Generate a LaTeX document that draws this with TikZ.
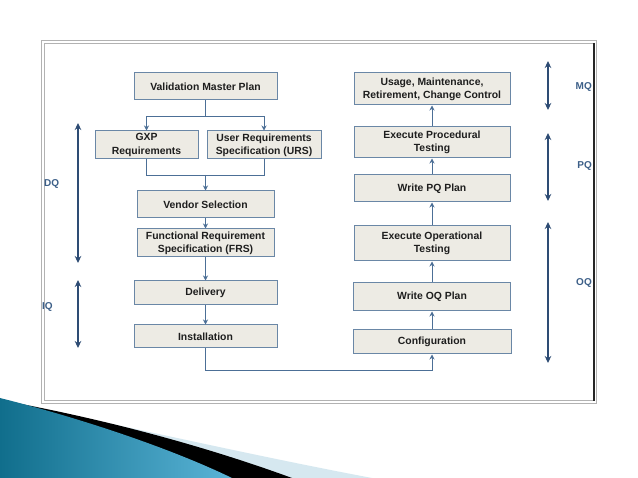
\documentclass[tikz,border=0pt]{standalone}
\usepackage{fontspec}
\setmainfont{Liberation Sans}
\usetikzlibrary{arrows.meta}
\definecolor{boxfill}{HTML}{EDEBE4}
\definecolor{boxline}{HTML}{6A87A6}
\definecolor{conn}{HTML}{4C6F96}
\definecolor{navy}{HTML}{2E4C74}
\definecolor{txt}{HTML}{1E1E1E}
\definecolor{lbl}{HTML}{3C5F88}
\tikzset{
  box/.style={draw=boxline, line width=1pt, fill=boxfill, inner sep=0pt, align=center,
    text=txt, font=\fontsize{10.4}{13.2}\selectfont\bfseries},
  conline/.style={draw=conn, line width=0.9pt},
  conarrow/.style={conline, -{Stealth[length=5pt,width=5pt]}},
  phase/.style={draw=navy, line width=2.6pt, {Stealth[length=7pt,width=6.5pt]}-{Stealth[length=7pt,width=6.5pt]}},
  phaselbl/.style={text=lbl, font=\fontsize{10}{12}\selectfont\bfseries, inner sep=0pt}
}
\begin{document}
\begin{tikzpicture}[x=1pt,y=-1pt]
\useasboundingbox (0,0) rectangle (638,478);
\fill[white] (0,0) rectangle (638,478);
% bottom swoosh
\fill[color={rgb,255:red,214;green,232;blue,240}] (0,400) .. controls (120,425) and (250,455) .. (372,478) -- (0,478) -- cycle;
\fill[black] (0,400) .. controls (110,420) and (210,448) .. (292,478) -- (0,478) -- cycle;
\shade[left color={rgb,255:red,16;green,110;blue,140}, right color={rgb,255:red,90;green,180;blue,215}]
  (0,398) .. controls (80,418) and (170,448) .. (232,478) -- (0,478) -- cycle;
% frame
\draw[gray!60, line width=0.9pt, double=white, double distance=1.6pt] (43,42) rectangle (595,402);
\draw[black!85, line width=1.8pt] (594,43) -- (594,401);
% left column
\node[box, minimum width=143pt, minimum height=27pt] (vmp) at (205.5,86.5) {Validation Master Plan};
\node[box, minimum width=103pt, minimum height=28pt] (gxp) at (146.5,145) {GXP\\Requirements};
\node[box, minimum width=114pt, minimum height=28pt] (urs) at (264,145) {User Requirements\\Specification (URS)};
\node[box, minimum width=137pt, minimum height=27pt] (vend) at (205.5,204.5) {Vendor Selection};
\node[box, minimum width=137pt, minimum height=28pt] (frs) at (205.5,243) {Functional Requirement\\Specification (FRS)};
\node[box, minimum width=143pt, minimum height=24pt] (deliv) at (205.5,293) {Delivery};
\node[box, minimum width=143pt, minimum height=23pt] (inst) at (205.5,336.5) {Installation};
% right column
\node[box, minimum width=156pt, minimum height=32pt] (usage) at (432,89) {Usage, Maintenance,\\Retirement, Change Control};
\node[box, minimum width=156pt, minimum height=31pt] (epq) at (432,142.5) {Execute Procedural\\Testing};
\node[box, minimum width=156pt, minimum height=27pt] (wpq) at (432,188.5) {Write PQ Plan};
\node[box, minimum width=156pt, minimum height=35pt] (eoq) at (432,243.5) {Execute Operational\\Testing};
\node[box, minimum width=157pt, minimum height=28pt] (woq) at (432,297) {Write OQ Plan};
\node[box, minimum width=158pt, minimum height=24pt] (conf) at (432,342) {Configuration};
% junction coordinates
\coordinate (j1) at (205.5,116);
\coordinate (j2) at (205.5,175);
\coordinate (j3) at (205.5,370);
% connectors left
\draw[conline] (vmp.south) -- (j1);
\draw[conarrow] (j1) -| (gxp.north);
\draw[conarrow] (j1) -| (urs.north);
\draw[conline] (gxp.south) |- (j2);
\draw[conline] (urs.south) |- (j2);
\draw[conarrow] (j2) -- (vend.north);
\draw[conarrow] (vend.south) -- (frs.north);
\draw[conarrow] (frs.south) -- (deliv.north);
\draw[conarrow] (deliv.south) -- (inst.north);
\draw[conarrow] (inst.south) -- (j3) -| (conf.south);
% connectors right
\draw[conarrow] (conf.north) -- (woq.south);
\draw[conarrow] (woq.north) -- (eoq.south);
\draw[conarrow] (eoq.north) -- (wpq.south);
\draw[conarrow] (wpq.north) -- (epq.south);
\draw[conarrow] (epq.north) -- (usage.south);
% phase arrows right
\coordinate (mqa) at (548,61); \coordinate (mqb) at (548,110);
\coordinate (pqa) at (548,133); \coordinate (pqb) at (548,201);
\coordinate (oqa) at (548,222); \coordinate (oqb) at (548,363);
\draw[phase] (mqa) -- (mqb);
\draw[phase] (pqa) -- (pqb);
\draw[phase] (oqa) -- (oqb);
\node[phaselbl, anchor=east] (mq) at (592,87) {MQ};
\node[phaselbl, anchor=east] (pq) at (592,166) {PQ};
\node[phaselbl, anchor=east] (oq) at (592,283) {OQ};
% phase arrows left
\coordinate (dqa) at (78,123); \coordinate (dqb) at (78,263);
\coordinate (iqa) at (78,280); \coordinate (iqb) at (78,348);
\draw[phase] (dqa) -- (dqb);
\draw[phase] (iqa) -- (iqb);
\node[phaselbl, anchor=west] (dq) at (44,184) {DQ};
\node[phaselbl, anchor=west] (iq) at (42,307) {IQ};
\end{tikzpicture}
\end{document}
